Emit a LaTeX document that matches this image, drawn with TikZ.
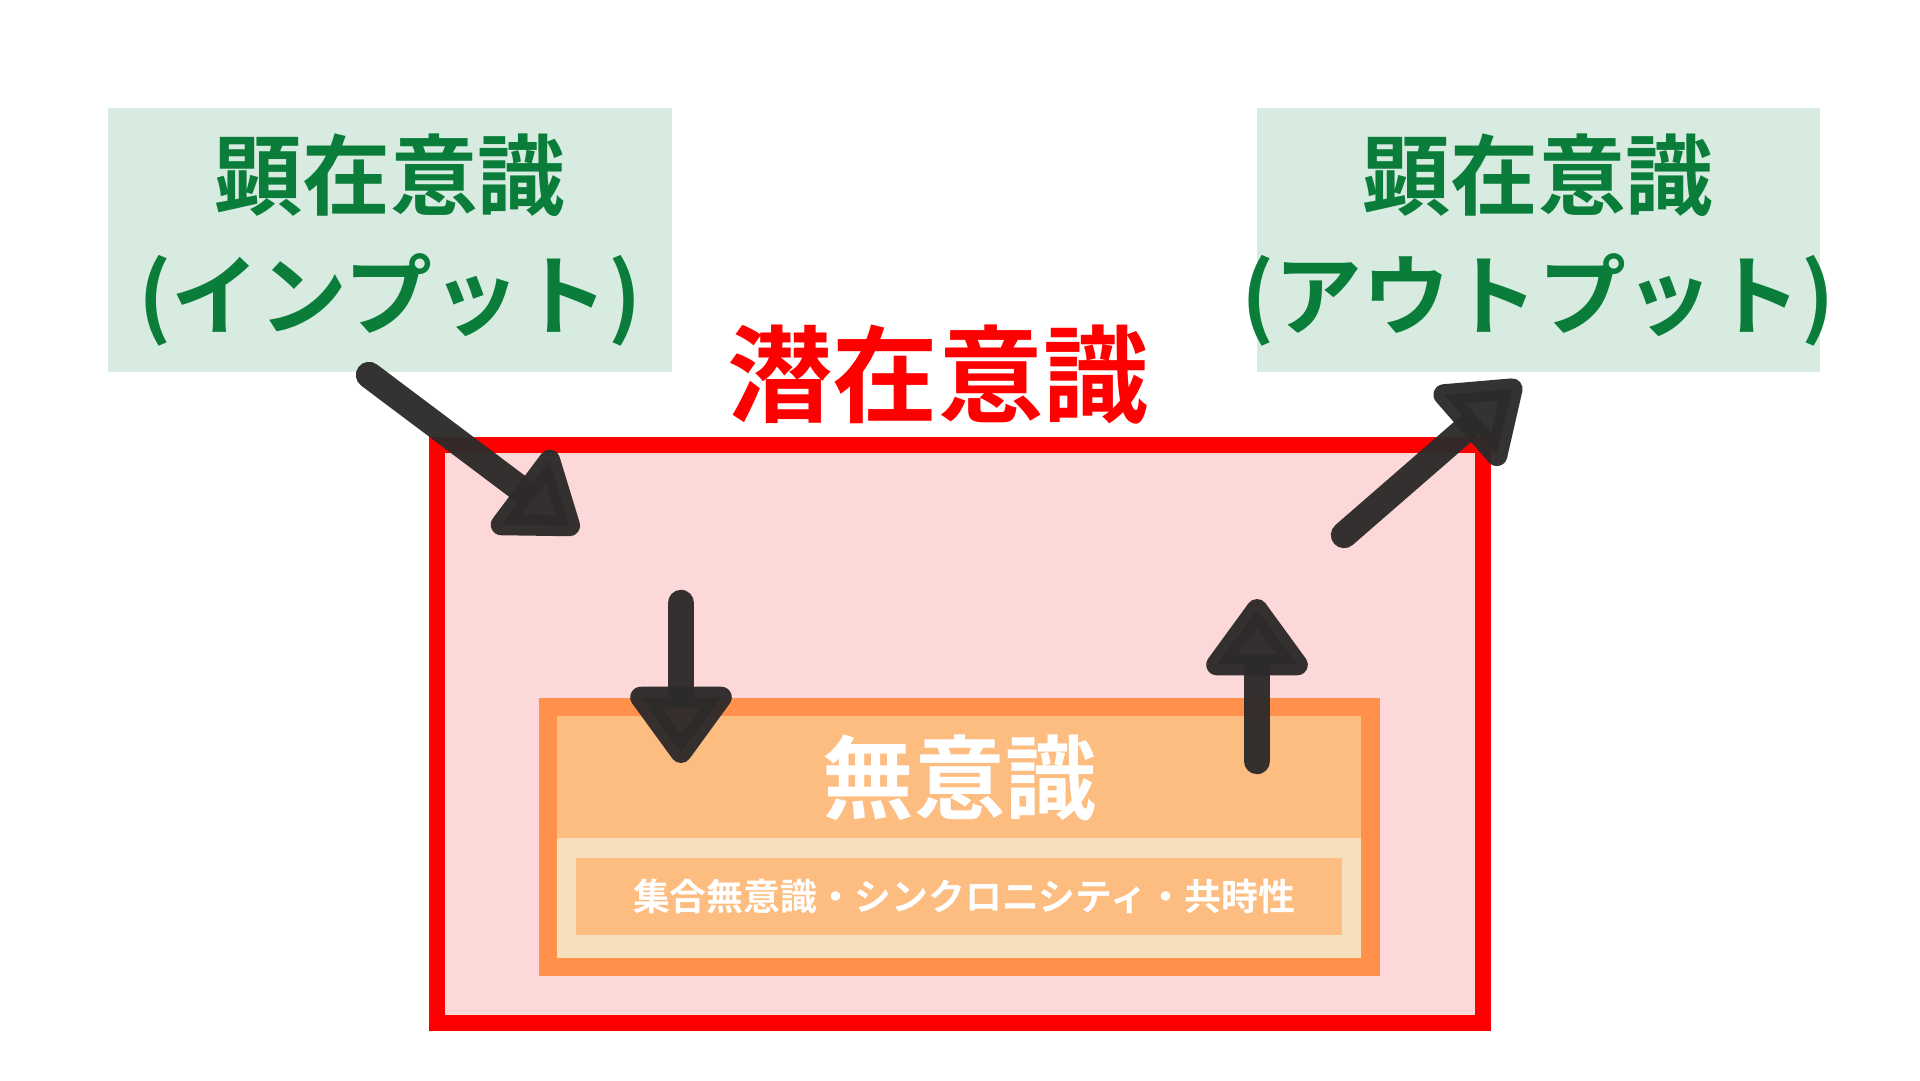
\documentclass[tikz,border=0pt]{standalone}
\usepackage{fontspec}
\newfontfamily\jpfont{Noto Sans CJK JP Bold}
\usetikzlibrary{arrows.meta}
\definecolor{boxgreen}{HTML}{D8EBE0}
\definecolor{textgreen}{HTML}{0A7D3A}
\definecolor{zonepink}{HTML}{FDD8D8}
\definecolor{deeporange}{HTML}{FF914D}
\definecolor{softorange}{HTML}{FDBD80}
\definecolor{cream}{HTML}{F5DFBD}
\definecolor{arrowdark}{HTML}{2D2A2A}

\begin{document}
\begin{tikzpicture}[x=0.02cm, y=-0.02cm,
        flow/.style={line width=15pt, draw=arrowdark, opacity=.96, line cap=round,
            -{Triangle[round, width=66pt, length=48pt]}},
        greenbox/.style={fill=boxgreen},
        greenlabel/.style={text=textgreen, align=center, font=\jpfont\fontsize{50}{68}\selectfont}
        ]
        \useasboundingbox (0,0) rectangle (1920,1080);
        % conscious boxes
        \fill[greenbox] (108,108) rectangle (672,372);
        \fill[greenbox] (1257,108) rectangle (1820,372);
        \node[greenlabel] (inlabel) at (390,240) {顕在意識\\(インプット)};
        \node[greenlabel] (outlabel) at (1538,240) {顕在意識\\(アウトプット)};
        % subconscious
        \filldraw[fill=zonepink, draw=red, line width=9.6pt] (437,445) rectangle (1483,1023);
        \node[text=red, font=\jpfont\fontsize{60}{60}\selectfont] (sub) at (938,375) {潜在意識};
        % unconscious
        \fill[deeporange] (539,698) rectangle (1380,976);
        \fill[softorange] (557,716) rectangle (1361,838);
        \fill[cream] (557,838) rectangle (1361,958);
        \fill[softorange] (576,858) rectangle (1342,935);
        \node[text=white, font=\jpfont\fontsize{52}{52}\selectfont] (uncon) at (960,778) {無意識};
        \node[text=white, font=\jpfont\fontsize{21}{21}\selectfont] (collective) at (964,896)
            {集合無意識・シンクロニシティ・共時性};
        % arrows
        \coordinate (a1s) at (369,375); \coordinate (a1e) at (578,532);
        \coordinate (a2s) at (681,603); \coordinate (a2e) at (681,763);
        \coordinate (a3s) at (1257,761); \coordinate (a3e) at (1257,599);
        \coordinate (a4s) at (1344,535); \coordinate (a4e) at (1520,382);
        \draw[flow] (a1s) -- (a1e);
        \draw[flow] (a2s) -- (a2e);
        \draw[flow] (a3s) -- (a3e);
        \draw[flow] (a4s) -- (a4e);
\end{tikzpicture}
\end{document}
